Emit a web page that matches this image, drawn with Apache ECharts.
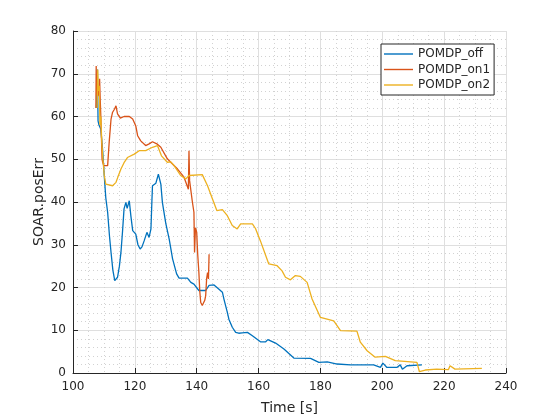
<!DOCTYPE html>
<html>
<head>
  <meta charset="utf-8">
  <title>SOAR.posErr</title>
  <script src="https://cdn.jsdelivr.net/npm/echarts@6.0.0/dist/echarts.min.js"></script>
  <style>
    html, body { margin: 0; padding: 0; background: #fff; }
    #main { width: 560px; height: 420px; }
  </style>
</head>
<body>
  <div id="main"></div>
  <script>
    // series names
    var seriesNames = ['POMDP_off', 'POMDP_on1', 'POMDP_on2'];

    // [time, posErr]
    var offData = [
      [107.6, 62], [107.9, 71], [108.1, 59], [108.4, 58], [109.0, 57], [109.6, 52],
      [110.1, 46.2], [110.6, 41], [111.2, 37.6], [111.8, 32], [112.3, 28.2], [112.9, 24],
      [113.5, 21.6], [114.0, 21.3], [114.4, 22.4], [115.0, 25], [115.5, 28.2], [116.0, 33],
      [116.5, 38.4], [117.1, 39.9], [117.5, 38.5], [118.2, 40.3], [118.7, 36.8], [119.3, 33.3],
      [120.3, 32.5], [121.0, 30], [121.7, 29.0], [122.3, 29.5], [123.0, 30.9], [123.9, 32.9],
      [124.6, 31.7], [125.2, 33.7], [125.5, 40], [125.7, 43.8], [126.8, 44.4], [127.6, 46.5],
      [128.4, 44.2], [128.9, 39.9], [130.0, 35], [131.1, 31.3], [132.2, 26.7], [133.5, 23.2],
      [134.3, 22.2], [137.0, 22.2], [138.1, 21.2], [139.1, 20.8], [140.7, 19.3], [142.9, 19.3],
      [144.0, 20.5], [145.6, 20.6], [147.2, 19.6], [148.3, 18.9], [148.8, 17.3], [149.9, 14.2],
      [150.4, 12.6], [151.5, 10.7], [152.6, 9.5], [153.6, 9.3], [154.7, 9.4], [156.4, 9.5],
      [158.0, 8.7], [158.5, 8.3], [160.6, 7.3], [162.3, 7.3], [163.0, 7.8], [165.5, 7.0],
      [168.2, 5.6], [171.4, 3.5], [176.8, 3.4], [179.5, 2.5], [182.2, 2.6], [185.4, 2.1],
      [189.7, 1.9], [197.2, 1.9], [199.4, 1.3], [200.2, 2.3], [201.5, 1.3], [204.7, 1.3],
      [205.8, 1.9], [206.5, 0.9], [208.0, 1.7], [212.8, 1.9]
    ];
    var on1Data = [
      [107.4, 62], [107.5, 71.8], [107.6, 65], [108.0, 66], [108.4, 64.8], [108.6, 68.8],
      [108.8, 64], [109.0, 60], [109.2, 55], [109.4, 50], [109.6, 49.3], [110.0, 48.5],
      [110.6, 48.8], [111.2, 48.5], [111.7, 54.0], [112.3, 59.4], [112.8, 61.0], [113.4, 61.7],
      [113.9, 62.5], [114.4, 60.6], [115.3, 59.6], [116.5, 60.0], [118.2, 60.0], [119.3, 59.4],
      [120.3, 57.8], [120.9, 55.5], [121.9, 54.3], [123.5, 53.2], [124.6, 53.6], [125.7, 54.1],
      [127.1, 53.6], [128.4, 52.8], [130.5, 50.1], [131.6, 49.3], [133.8, 47.7], [135.9, 45.8],
      [137.3, 43.0], [137.5, 52.0], [137.7, 45], [138.1, 44.6], [138.6, 40], [139.1, 37.6],
      [139.3, 28.2], [139.6, 34], [140.0, 32.9], [140.3, 28], [140.7, 23.5], [141.0, 19],
      [141.3, 16.5], [141.8, 15.8], [142.2, 15.4], [142.6, 17], [142.9, 18.1], [143.2, 22],
      [143.5, 23.5], [143.8, 22], [144.0, 27.8]
    ];
    var on2Data = [
      [107.8, 62], [108.0, 71], [108.2, 66], [108.5, 67.2], [108.7, 58], [109.0, 60],
      [109.3, 54], [109.6, 50.8], [110.1, 46.2], [110.6, 44.2], [111.2, 43.8], [112.8, 43.8],
      [113.9, 44.6], [114.6, 46], [115.5, 47.7], [116.5, 49.2], [117.6, 50.4], [119.8, 51.2],
      [121.4, 52.0], [123.5, 52.0], [125.7, 52.8], [127.3, 53.2], [128.6, 50.8], [130.5, 49.3],
      [131.6, 49.4], [132.7, 48.5], [134.8, 46.2], [136.5, 45.4], [137.5, 46.2], [141.8, 46.4],
      [143.5, 43.8], [145.1, 40.7], [146.5, 38.0], [148.3, 38.2], [149.9, 36.8], [151.5, 34.5],
      [153.1, 33.7], [154.2, 34.9], [158.0, 34.9], [159.0, 33.8], [160.6, 30.9], [163.3, 25.5],
      [166.0, 25.1], [167.6, 23.9], [168.7, 22.4], [170.3, 21.8], [171.9, 22.8], [173.5, 22.6],
      [175.7, 21.2], [177.3, 17.3], [180.0, 13.0], [184.3, 12.2], [186.5, 9.9], [191.8, 9.8],
      [192.9, 7.2], [195.1, 5.2], [197.7, 3.7], [201.0, 3.9], [204.2, 2.9], [211.2, 2.5],
      [212.0, 0.3], [213.9, 0.7], [217.6, 0.9], [221.4, 0.8], [221.9, 1.7], [223.5, 0.9],
      [232.2, 1.1]
    ];

    var colors = ['#0072BD', '#D95319', '#EDB120'];
    var textColor = '#262626';
    var font = 'DejaVu Sans';

    function makeAxis(min, max, interval, minorSplit) {
      return {
        type: 'value',
        min: min,
        max: max,
        interval: interval,
        axisLine: { show: true, lineStyle: { color: textColor, width: 1 } },
        axisTick: { show: true, inside: true, length: 5, lineStyle: { color: textColor } },
        axisLabel: { color: textColor, fontSize: 12, fontFamily: font },
        splitLine: { show: true, lineStyle: { color: '#dfdfdf', width: 1 } },
        minorTick: { show: false, splitNumber: minorSplit },
        minorSplitLine: { show: true, lineStyle: { color: '#d2d2d2', width: 1, type: [1, 3] } },
        nameTextStyle: { color: textColor, fontSize: 14, fontFamily: font },
        nameLocation: 'middle',
        nameMoveOverlap: false
      };
    }

    var xAxis = makeAxis(100, 240, 20, 4);
    xAxis.name = 'Time [s]';
    xAxis.nameGap = 28;
    xAxis.axisLabel.margin = 8;

    var yAxis = makeAxis(0, 80, 10, 5);
    yAxis.name = 'SOAR.posErr';
    yAxis.nameGap = 27;
    yAxis.axisLabel.margin = 7;

    var allData = [offData, on1Data, on2Data];
    var series = allData.map(function (d, i) {
      return {
        name: seriesNames[i],
        type: 'line',
        data: d,
        symbol: 'none',
        showSymbol: false,
        lineStyle: { color: colors[i], width: 1.3 },
        itemStyle: { color: colors[i] },
        animation: false
      };
    });

    var option = {
      backgroundColor: '#fff',
      animation: false,
      grid: { left: 73, right: 54, top: 31, bottom: 47, containLabel: false },
      legend: {
        data: seriesNames,
        orient: 'vertical',
        left: 381,
        top: 44,
        icon: 'rect',
        itemWidth: 29,
        itemHeight: 1.4,
        itemGap: 1.5,
        padding: [3, 4, 3, 3],
        backgroundColor: '#fff',
        borderColor: textColor,
        borderWidth: 1,
        textStyle: { color: textColor, fontSize: 12, fontFamily: font, lineHeight: 14 }
      },
      xAxis: xAxis,
      yAxis: yAxis,
      series: series
    };

    var chart = echarts.init(document.getElementById('main'));
    chart.setOption(option);
  </script>
</body>
</html>
